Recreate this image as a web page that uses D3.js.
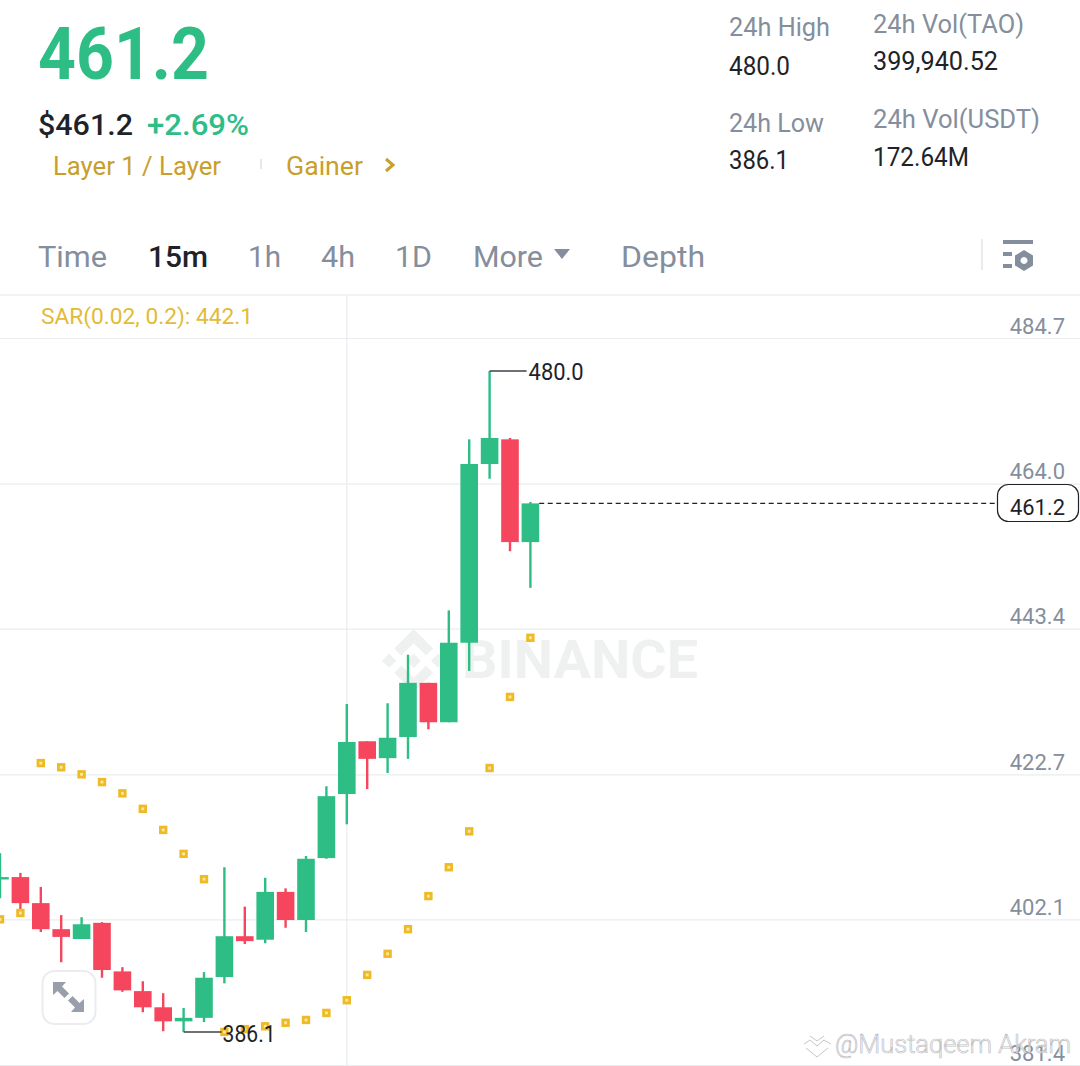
<!DOCTYPE html>
<html>
<head>
<meta charset="utf-8">
<title>TAO/USDT 15m</title>
<script src="https://cdn.jsdelivr.net/npm/d3@7"></script>
<style>
  html, body { margin: 0; padding: 0; background: #fff; }
  svg { display: block; }
  text { font-family: Roboto, "Noto Sans", sans-serif; }
</style>
</head>
<body>
<svg id="chart" width="1080" height="1066"></svg>
<script>
// candle values, oldest first
const opens  = [408.0,408.1,404.4,400.7,399.3,401.6,394.7,391.9,389.6,387.6,388.1,393.9,399.7,399.2,406.0,402.0,410.8,419.9,427.4,425.0,428.0,435.7,430.1,441.4,466.8,470.3,455.7];
const highs  = [411.5,408.7,406.7,402.7,402.4,401.7,395.3,393.3,391.6,389.5,394.6,409.5,403.9,408.0,406.5,411.1,421.0,432.7,427.4,432.8,439.7,435.7,446.0,470.3,480.0,470.5,461.4];
const lows   = [405.1,403.4,400.3,396.0,399.3,393.8,391.8,388.9,386.2,386.1,387.5,393.0,398.6,398.7,400.9,400.3,410.7,415.6,420.6,422.9,424.9,429.1,430.1,437.4,464.7,454.4,449.2];
const closes = [408.1,404.4,400.7,399.6,401.4,394.9,392.0,389.6,387.6,388.1,393.8,399.7,399.0,406.0,402.0,410.7,419.6,427.3,424.9,427.9,435.7,430.1,441.4,466.8,470.5,455.7,461.2];
const sar    = [402.1,403.0,424.3,423.7,422.7,421.6,420.0,417.8,414.8,411.4,407.8,386.1,386.5,386.9,387.4,387.8,388.8,390.6,394.2,397.2,400.7,405.4,409.5,414.6,423.6,433.7,442.1];

const priceTicks = [484.7, 464.0, 443.4, 422.7, 402.1, 381.4];
const lastPrice = 461.2;
const dayHigh = 480.0;
const dayLow = 386.1;

const tabs = ["Time", "15m", "1h", "4h", "1D", "More", "Depth"];
const tabStarts = [38, 148, 248, 321, 395, 473, 621];
const tabWidths = [69, 60, 33, 34, 37, 70, 84];

const green = "#2ebd85";
const red = "#f6465d";
const dark = "#1e2329";
const grey = "#848e9c";
const gold = "#c99f2c";

const svg = d3.select("#chart");

const x = d3.scaleLinear().domain([0, opens.length - 1]).range([0, 530.4]);
const y = d3.scaleLinear().domain([381.4, 484.7]).range([1065, 338]);

const bodyWidth = 17.6;

// small helper, width stretches Roboto to the narrower face of the app
function label(parent, px, py, str, size, color, weight, width) {
    const t = parent.append("text")
        .attr("x", px)
        .attr("y", py)
        .attr("font-size", size)
        .attr("font-weight", weight || 400)
        .attr("fill", color)
        .text(str);
    if (width) {
        t.attr("textLength", width).attr("lengthAdjust", "spacingAndGlyphs");
    }
    return t;
}

// header
const header = svg.append("g");
label(header, 38, 79, "461.2", 72, green, 700, 171);
label(header, 38, 135, "$461.2", 30, dark, 500, 95);
label(header, 147, 135, "+2.69%", 29, green, 500, 102);
label(header, 53, 175, "Layer 1 / Layer", 26, gold, 400, 168);
header.append("rect").attr("x", 260).attr("y", 159).attr("width", 2).attr("height", 10).attr("fill", "#e6e8ea");
label(header, 286, 175, "Gainer", 26, gold, 400, 77);
header.append("path")
    .attr("d", "M386,159 L393,165 L386,171")
    .attr("fill", "none").attr("stroke", gold).attr("stroke-width", 3);

label(header, 729, 36, "24h High", 26, grey, 400, 101);
label(header, 729, 75, "480.0", 25, dark, 400, 61);
label(header, 873, 33, "24h Vol(TAO)", 26, grey, 400, 151);
label(header, 873, 70, "399,940.52", 25, dark, 400, 125);
label(header, 729, 132, "24h Low", 26, grey, 400, 95);
label(header, 729, 169, "386.1", 25, dark, 400, 60);
label(header, 873, 128, "24h Vol(USDT)", 26, grey, 400, 167);
label(header, 873, 166, "172.64M", 25, dark, 400, 96);

// interval tabs
const tabBar = svg.append("g");
tabs.forEach((name, i) => {
    const active = name === "15m";
    label(tabBar, tabStarts[i], 267, name, 30, active ? dark : grey, active ? 500 : 400, tabWidths[i]);
});
tabBar.append("path").attr("d", "M554,249 H570 L562,259 Z").attr("fill", grey);
tabBar.append("rect").attr("x", 981).attr("y", 239).attr("width", 2).attr("height", 31).attr("fill", "#e9ebee");
tabBar.append("rect").attr("x", 1003).attr("y", 240).attr("width", 30).attr("height", 4).attr("fill", grey);
tabBar.append("rect").attr("x", 1003).attr("y", 252).attr("width", 9).attr("height", 4).attr("fill", grey);
tabBar.append("rect").attr("x", 1003).attr("y", 264).attr("width", 9).attr("height", 4).attr("fill", grey);
tabBar.append("path")
    .attr("d", "M1024,250 L1033,255.5 V265.5 L1024,271 L1015,265.5 V255.5 Z M1024,257 a3.5,3.5 0 1,0 0.01,0 Z")
    .attr("fill", grey).attr("fill-rule", "evenodd");

svg.append("rect").attr("x", 0).attr("y", 294).attr("width", 1080).attr("height", 2).attr("fill", "#f2f3f5");

// watermark sits under everything in the plot
const mark = svg.append("g");
mark.append("path")
    .attr("transform", "translate(382,629) scale(0.5)")
    .attr("fill", "#eff1f1")
    .attr("d", "M38.73 53.2l24.59-24.58 24.6 24.6 14.3-14.31L63.32 0 24.43 38.9l14.3 14.3zM0 63.31l14.3-14.31 14.31 14.31-14.31 14.3zM38.73 73.41l24.59 24.59 24.6-24.6 14.31 14.29-38.9 38.91-38.91-38.88v-.03l14.31-14.28zM98.01 63.31l14.3-14.31 14.31 14.31-14.3 14.3zM77.83 63.3L63.32 48.78 52.59 59.51l-1.24 1.23-2.54 2.54 14.51 14.5 14.51-14.47z");
label(mark, 462, 678, "BINANCE", 54, "#eff1f1", 700, 236);

// price axis, gridlines run the full width and labels sit above them
const axis = d3.axisRight(y)
    .tickValues(priceTicks)
    .tickSize(1080)
    .tickFormat(d3.format(".1f"));

const axisG = svg.append("g").call(axis);
axisG.select(".domain").remove();
axisG.selectAll(".tick line").attr("stroke", "#eaecef").attr("stroke-width", 1.2);
axisG.selectAll(".tick text")
    .attr("x", 1065)
    .attr("dy", -5)
    .attr("text-anchor", "end")
    .attr("font-size", 22)
    .attr("font-family", "Roboto, sans-serif")
    .attr("fill", grey);

svg.append("line")
    .attr("x1", x(17)).attr("x2", x(17))
    .attr("y1", 296).attr("y2", 1065)
    .attr("stroke", "#eaecef").attr("stroke-width", 1.2);

label(svg, 41, 324, "SAR(0.02, 0.2): 442.1", 22, "#e3bb35", 400, 212);

// candles
const candles = svg.append("g")
    .selectAll("g")
    .data(opens.map((o, i) => ({ i, o, h: highs[i], l: lows[i], c: closes[i] })))
    .join("g")
    .attr("fill", d => d.c >= d.o ? green : red);

candles.append("rect")
    .attr("x", d => x(d.i) - 1.2)
    .attr("width", 2.4)
    .attr("y", d => y(d.h))
    .attr("height", d => y(d.l) - y(d.h));

candles.append("rect")
    .attr("x", d => x(d.i) - bodyWidth / 2)
    .attr("width", bodyWidth)
    .attr("y", d => y(Math.max(d.o, d.c)))
    .attr("height", d => Math.max(y(Math.min(d.o, d.c)) - y(Math.max(d.o, d.c)), 2.4));

// SAR dots
svg.append("g")
    .selectAll("rect")
    .data(sar)
    .join("rect")
    .attr("x", (d, i) => x(i) - 2.8)
    .attr("y", d => y(d) - 2.8)
    .attr("width", 5.6)
    .attr("height", 5.6)
    .attr("fill", "#fbe9a6")
    .attr("stroke", "#eebb26")
    .attr("stroke-width", 2.8);

// high and low callouts
const iHigh = highs.indexOf(dayHigh);
const iLow = lows.indexOf(dayLow);
svg.append("path")
    .attr("d", `M${x(iHigh)},${y(dayHigh)} H${x(iHigh) + 37}`)
    .attr("stroke", "#3c4248").attr("stroke-width", 1.5).attr("fill", "none");
label(svg, x(iHigh) + 39, y(dayHigh) + 9, d3.format(".1f")(dayHigh), 23, dark, 400, 55);
svg.append("path")
    .attr("d", `M${x(iLow)},${y(dayLow)} H${x(iLow) + 38}`)
    .attr("stroke", "#3c4248").attr("stroke-width", 1.5).attr("fill", "none");
label(svg, x(iLow) + 39, y(dayLow) + 10, d3.format(".1f")(dayLow), 23, dark, 400, 53);

// last price line and tag
svg.append("line")
    .attr("x1", x(opens.length - 1) + bodyWidth / 2).attr("x2", 997)
    .attr("y1", y(lastPrice)).attr("y2", y(lastPrice))
    .attr("stroke", dark).attr("stroke-width", 1.2).attr("stroke-dasharray", "5 3.5");
svg.append("rect")
    .attr("x", 997.5).attr("y", 484.5).attr("width", 81).attr("height", 37).attr("rx", 11)
    .attr("fill", "#fff").attr("stroke", dark).attr("stroke-width", 1.2);
label(svg, 1010, 515, d3.format(".1f")(lastPrice), 22, dark, 400, 55);

// expand button
const expand = svg.append("g");
expand.append("rect")
    .attr("x", 42.5).attr("y", 971).attr("width", 53).attr("height", 53).attr("rx", 12)
    .attr("fill", "#fff").attr("stroke", "#eaecef").attr("stroke-width", 2);
expand.append("path")
    .attr("d", "M53,982 H66 L62,986.5 L69,993.5 L64.5,998 L57.5,991 L53,995 Z M84,1012 H71 L75,1007.5 L68,1000.5 L72.5,996 L79.5,1003 L84,999 Z")
    .attr("fill", "#989fab");

// user's outlined watermark, lies over the lowest tick
const userMark = svg.append("g");
userMark.append("path")
    .attr("d", "M804,1044 L810,1040 L817,1046 L824,1040 L831,1044 M810,1036 L817,1041 L824,1036 M806,1048 L817,1057 L828,1048")
    .attr("fill", "none").attr("stroke", "#c4c6c8").attr("stroke-width", 1);
label(userMark, 835, 1053, "@Mustaqeem Akram", 25, "#fff", 300, 236)
    .attr("fill-opacity", 0.6)
    .attr("stroke", "#bfc1c4")
    .attr("stroke-width", 0.7);
</script>
</body>
</html>
